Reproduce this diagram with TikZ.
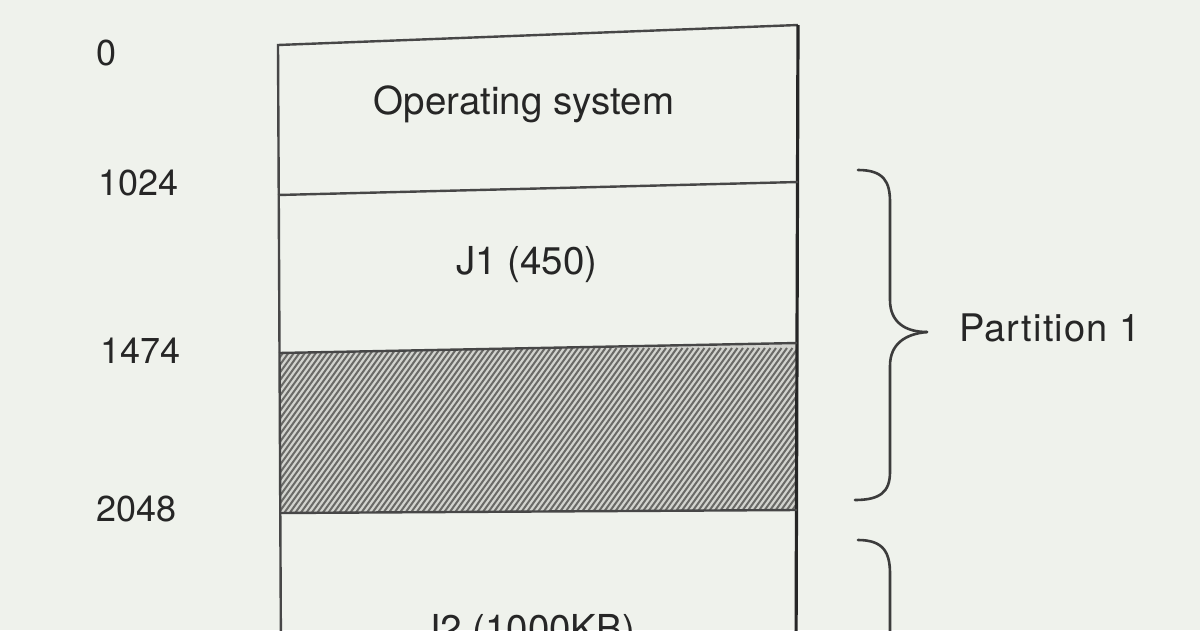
\documentclass[tikz,border=0pt]{standalone}
\usepackage{fontspec}
\setmainfont{TeX Gyre Heros}
\definecolor{paper}{HTML}{EFF2EC}
\definecolor{ink}{HTML}{262626}
\definecolor{hatchbg}{HTML}{D2D3CE}
\definecolor{hatchln}{HTML}{6A6A67}
\begin{document}
\begin{tikzpicture}[x=1pt,y=-1pt,
  boxline/.style={draw=ink!85, line width=2.4pt},
  rightline/.style={draw=ink, line width=3.2pt},
  lbl/.style={text=ink, font=\fontsize{36}{42}\selectfont, inner sep=0pt},
  biglbl/.style={text=ink, font=\fontsize{38.5}{44}\selectfont, inner sep=0pt},
  bracepath/.style={draw=ink!90, line width=2.6pt, line cap=round}]
\useasboundingbox (0,0) rectangle (1200,630);
\fill[paper] (0,0) rectangle (1200,630);
\begin{scope}
\clip (0,0) rectangle (1200,630);
% corners of the memory block
\coordinate (tl) at (278,45);  \coordinate (tr) at (798,25);
\coordinate (al) at (278,195); \coordinate (ar) at (798,182);
\coordinate (bl) at (279,353); \coordinate (br) at (797,343);
\coordinate (cl) at (280,513); \coordinate (cr) at (797,510);
\coordinate (dl) at (281,660); \coordinate (dr) at (796,660);
% hatched free region
\begin{scope}
\clip (bl) -- (br) -- (cr) -- (cl) -- cycle;
\fill[hatchbg] (bl) -- (br) -- (cr) -- (cl) -- cycle;
\foreach \i in {0,...,122}
  \draw[hatchln, line width=2pt] ({140+\i*5.5},530) -- ++(130,-182);
\end{scope}
% block outline and partitions
\draw[boxline] (dl) -- (tl) -- (tr);
\draw[rightline] (tr) -- (dr);
\draw[boxline] (al) -- (ar);
\draw[boxline] (bl) -- (br);
\draw[boxline] (cl) -- (cr);
% address labels
\node[lbl, anchor=base west] (n0) at (96,65) {0};
\node[lbl, anchor=base west] (n1024) at (98,195) {1024};
\node[lbl, anchor=base west] (n1474) at (100,363) {1474};
\node[lbl, anchor=base west] (n2048) at (96,521) {2048};
% region labels
\node[biglbl, anchor=base] (os) at (524,114) {Operating system};
\node[biglbl, anchor=base] (j1) at (527,274) {J1 (450)};
\node[biglbl, anchor=base] (j2) at (528,642) {J2 (1000KB)};
% braces
\coordinate (b1top) at (858,170);
\coordinate (b1tip) at (927,332);
\coordinate (b1bot) at (855,500);
\coordinate (b2top) at (858,540);
\coordinate (b2end) at (890,660);
\draw[bracepath] (b1top) .. controls (884,170) and (890,182) .. (890,202) -- (890,300) .. controls (890,322) and (905,332) .. (b1tip);
\draw[bracepath] (b1tip) .. controls (905,334) and (890,344) .. (890,366) -- (890,472) .. controls (890,492) and (880,500) .. (b1bot);
\draw[bracepath] (b2top) .. controls (884,540) and (890,553) .. (890,574) -- (b2end);
\node[biglbl, anchor=base west, font=\fontsize{38}{44}\selectfont\addfontfeature{LetterSpace=3}] (p1) at (959,341) {Partition 1};
\end{scope}
\end{tikzpicture}
\end{document}
